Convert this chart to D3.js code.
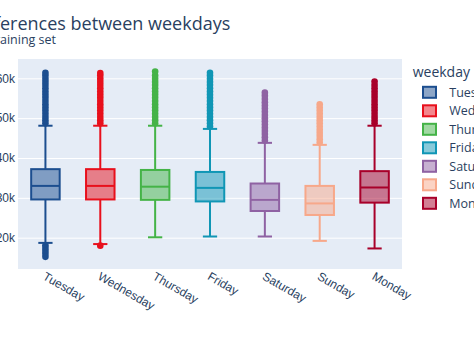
<!DOCTYPE html>
<html><head><meta charset="utf-8">
<script src="https://cdn.jsdelivr.net/npm/d3@7"></script>
<style>html,body{margin:0;padding:0;background:#fff;overflow:hidden}svg{display:block;font-family:"Open Sans",verdana,arial,sans-serif}</style>
</head><body><svg id="c" width="474" height="355"></svg>
<script>
const weekdays = ["Tuesday","Wednesday","Thursday","Friday","Saturday","Sunday","Monday"];
const lowerFence = [18.7, 18.4, 20.1, 20.3, 20.3, 19.2, 17.3];
const q1 = [29.6, 29.6, 29.5, 29.1, 26.7, 25.7, 28.8];
const median = [33.0, 33.0, 32.8, 32.5, 29.5, 28.6, 32.6];
const q3 = [37.2, 37.2, 37.0, 36.5, 33.6, 33.0, 36.7];
const upperFence = [48.1, 48.1, 48.1, 47.3, 43.8, 43.3, 48.1];
const outliersTue = [48.7,49.5,50.3,51.1,51.9,52.7,53.5,54.3,55.1,55.9,56.7,57.5,58.3,59.1,59.9,60.7,61.4,18.1,17.4,16.7,16.0,15.2];
const outliersWed = [48.7,49.5,50.3,51.1,51.9,52.7,53.5,54.3,55.1,55.9,56.7,57.5,58.3,59.1,59.9,60.7,61.3,18.0];
const outliersThu = [48.7,49.5,50.3,51.1,51.9,52.7,53.5,54.3,55.1,55.9,56.7,57.5,58.3,59.1,59.9,60.7,61.7];
const outliersFri = [47.9,48.7,49.5,50.3,51.1,51.9,52.7,53.5,54.3,55.1,55.9,56.7,57.5,58.3,59.1,59.9,60.7,61.4];
const outliersSat = [44.4,45.2,46.0,46.8,47.6,48.4,49.2,50.0,50.8,51.6,52.4,53.2,54.0,54.8,55.6,56.4];
const outliersSun = [43.9,44.7,45.5,46.3,47.1,47.9,48.7,49.5,50.3,51.1,51.9,52.7,53.5];
const outliersMon = [48.7,49.5,50.3,51.1,51.9,52.7,53.5,54.3,55.1,55.9,56.7,57.5,58.3,59.2];
const outliers = [outliersTue,outliersWed,outliersThu,outliersFri,outliersSat,outliersSun,outliersMon];
const yTicks = [20, 30, 40, 50, 60];
const colors = ["#1c4e8f","#e8101c","#44b347","#1096b5","#8f62a3","#f7a88a","#a8002a"];

const svg = d3.select("#c");
const m = {l: 18, r: 402, t: 59, b: 269};
const fontC = "#2a3f5f";

const x = d3.scaleBand().domain(weekdays).range([m.l, m.r]).padding(0);
const y = d3.scaleLinear().domain([(317.4 - m.b) / 3.985, (317.4 - m.t) / 3.985]).range([m.b, m.t]);

svg.append("rect").attr("x", m.l).attr("y", m.t).attr("width", m.r - m.l).attr("height", m.b - m.t).attr("fill", "#e5ecf6");

// grid + y axis
const yAxis = d3.axisLeft(y).tickValues(yTicks).tickSize(-(m.r - m.l)).tickPadding(3).tickFormat(d => d + "k");
const gy = svg.append("g").attr("transform", `translate(${m.l},0)`).call(yAxis);
gy.select(".domain").remove();
gy.selectAll(".tick line").attr("stroke", "#fff").attr("stroke-width", 1);
gy.selectAll(".tick text").attr("fill", fontC).style("font-size", "12px").attr("x", -3);

// x axis
const xAxis = d3.axisBottom(x).tickSize(0).tickPadding(0);
const gx = svg.append("g").attr("transform", `translate(0,${m.b})`).call(xAxis);
gx.select(".domain").remove();
gx.selectAll(".tick text")
  .attr("fill", fontC).style("font-size", "12px")
  .attr("text-anchor", "start")
  .attr("y", 0).attr("dx", 0)
  .attr("transform", "translate(0,4) rotate(30)")
  .attr("dy", "0.55em");

// boxes
const bw = 28.5;
const g = svg.append("g");
weekdays.forEach((d, i) => {
  const cx = x(d) + x.bandwidth() / 2;
  const c = colors[i];
  const gg = g.append("g");
  gg.append("line").attr("x1", cx).attr("x2", cx).attr("y1", y(q3[i])).attr("y2", y(upperFence[i])).attr("stroke", c).attr("stroke-width", 2);
  gg.append("line").attr("x1", cx).attr("x2", cx).attr("y1", y(q1[i])).attr("y2", y(lowerFence[i])).attr("stroke", c).attr("stroke-width", 2);
  [upperFence[i], lowerFence[i]].forEach(v => {
    gg.append("line").attr("x1", cx - bw / 4).attr("x2", cx + bw / 4).attr("y1", y(v)).attr("y2", y(v)).attr("stroke", c).attr("stroke-width", 2);
  });
  gg.selectAll("circle").data(outliers[i]).join("circle")
    .attr("cx", cx).attr("cy", v => y(v)).attr("r", 3.3).attr("fill", c);
  gg.append("rect").attr("x", cx - bw / 2).attr("width", bw)
    .attr("y", y(q3[i])).attr("height", y(q1[i]) - y(q3[i]))
    .attr("fill", c).attr("fill-opacity", 0.5).attr("stroke", c).attr("stroke-width", 2);
  gg.append("line").attr("x1", cx - bw / 2).attr("x2", cx + bw / 2).attr("y1", y(median[i])).attr("y2", y(median[i])).attr("stroke", c).attr("stroke-width", 2);
});

// title
function tw(s, size) {
  const t = svg.append("text").style("font-size", size + "px").text(s);
  const w = t.node().getComputedTextLength(); t.remove(); return w;
}
svg.append("text").attr("x", -tw("Diff", 18)).attr("y", 29.5).attr("fill", fontC).style("font-size", "18px").text("Differences between weekdays");
svg.append("text").attr("x", -tw("Tr", 12.5)).attr("y", 44).attr("fill", fontC).style("font-size", "12.5px").text("Training set");

// legend
const lg = svg.append("g");
lg.append("text").attr("x", 412.7).attr("y", 77).attr("fill", fontC).style("font-size", "14px").text("weekday");
weekdays.forEach((d, i) => {
  const cy = 92.3 + i * 18.5;
  lg.append("rect").attr("x", 423).attr("y", cy - 5.5).attr("width", 13).attr("height", 11)
    .attr("fill", colors[i]).attr("fill-opacity", 0.5).attr("stroke", colors[i]).attr("stroke-width", 2);
  lg.append("text").attr("x", 449.3).attr("y", cy + 4.5).attr("fill", fontC).style("font-size", "12.5px").text(d);
});
</script></body></html>
